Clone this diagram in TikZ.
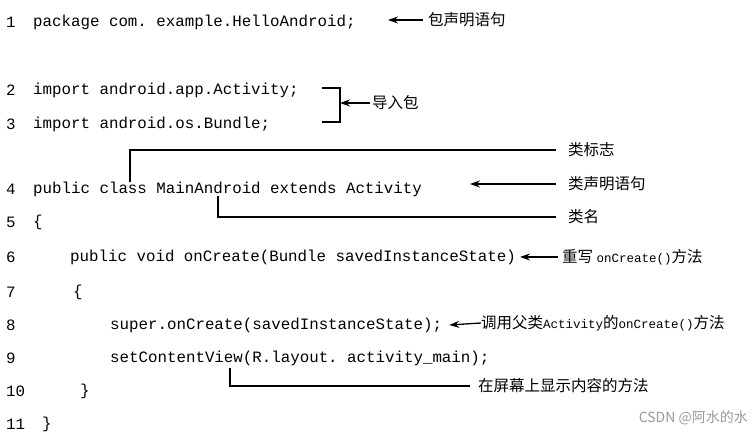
\documentclass[tikz,border=0pt]{standalone}
\usepackage{fontspec}
\setmonofont{Liberation Mono}
\newfontfamily\cjk{Noto Sans CJK SC}
\usetikzlibrary{arrows.meta}

\tikzset{
    codeline/.style={anchor=west, inner sep=0pt, font=\ttfamily\fontsize{15.8}{17}\selectfont},
    lineno/.style={anchor=west, inner sep=0pt, font=\ttfamily\fontsize{15.8}{17}\selectfont},
    note/.style={anchor=west, inner sep=0pt, font=\cjk\fontsize{15.5}{16}\selectfont},
    pointer/.style={-{Stealth[length=10pt,width=7pt]}, line width=1.3pt},
    guide/.style={line width=1.3pt}
}
\newcommand{\sm}[1]{{\ttfamily\fontsize{12.5}{13}\selectfont #1}}

\begin{document}
\begin{tikzpicture}[x=1pt,y=-1pt]
  \useasboundingbox (0,0) rectangle (756,438);
  % line numbers
  \foreach \n/\y in {1/22,2/90,3/124,4/189,5/222,6/257,7/292,8/325,9/358,10/391,11/424}
    \node[lineno] (n\n) at (6,\y) {\n};
  % code
  \node[codeline] (c1) at (33,22) {package com. example.HelloAndroid;};
  \node[codeline] (c2) at (33,90) {import android.app.Activity;};
  \node[codeline] (c3) at (33,124) {import android.os.Bundle;};
  \node[codeline] (c4) at (33,189) {public class MainAndroid extends Activity};
  \node[codeline] (c5) at (33,222) {\{};
  \node[codeline] (c6) at (70,257) {public void onCreate(Bundle savedInstanceState)};
  \node[codeline] (c7) at (73,292) {\{};
  \node[codeline] (c8) at (110,325) {super.onCreate(savedInstanceState);};
  \node[codeline] (c9) at (110,358) {setContentView(R.layout. activity\_main);};
  \node[codeline] (c10) at (80,391) {\}};
  \node[codeline] (c11) at (42,424) {\}};
  % notes
  \node[note] (t1) at (428,20) {包声明语句};
  \node[note] (t2) at (372,103) {导入包};
  \node[note] (t3) at (568,150) {类标志};
  \node[note] (t4) at (568,184) {类声明语句};
  \node[note] (t5) at (568,217) {类名};
  \node[note] (t6) at (562,257) {重写 \sm{onCreate()}方法};
  \node[note] (t7) at (481,323) {调用父类\sm{Activity}的\sm{onCreate()}方法};
  \node[note] (t8) at (478,386) {在屏幕上显示内容的方法};
  \node[anchor=east, inner sep=0pt, text=gray!80, font=\fontspec{Noto Sans CJK SC}\fontsize{14}{15}\selectfont] (mark) at (748,418) {CSDN @阿水的水};
  % connectors
  \coordinate (b2) at (340,88);
  \coordinate (b3) at (340,122);
  \coordinate (k4) at (130,182);
  \coordinate (m4) at (218,196);
  \coordinate (s9) at (230,368);
  \draw[pointer] (t1.west) ++(-5,0) -- (388,20);
  \draw[guide] (322,88) -- (b2) -- (b3) -- (322,122);
  \draw[pointer] (t2.west) ++(-2,0) -- (340,103);
  \draw[guide] (k4) |- ([xshift=-12pt]t3.west);
  \draw[pointer] ([xshift=-12pt]t4.west) -- (470,184);
  \draw[guide] (m4) |- ([xshift=-12pt]t5.west);
  \draw[pointer] ([xshift=-4pt]t6.west) -- ([xshift=4pt]c6.east);
  \draw[pointer] (t7.west) -- ([xshift=7pt]c8.east);
  \draw[guide] (s9) |- ([xshift=-8pt]t8.west);
\end{tikzpicture}
\end{document}
